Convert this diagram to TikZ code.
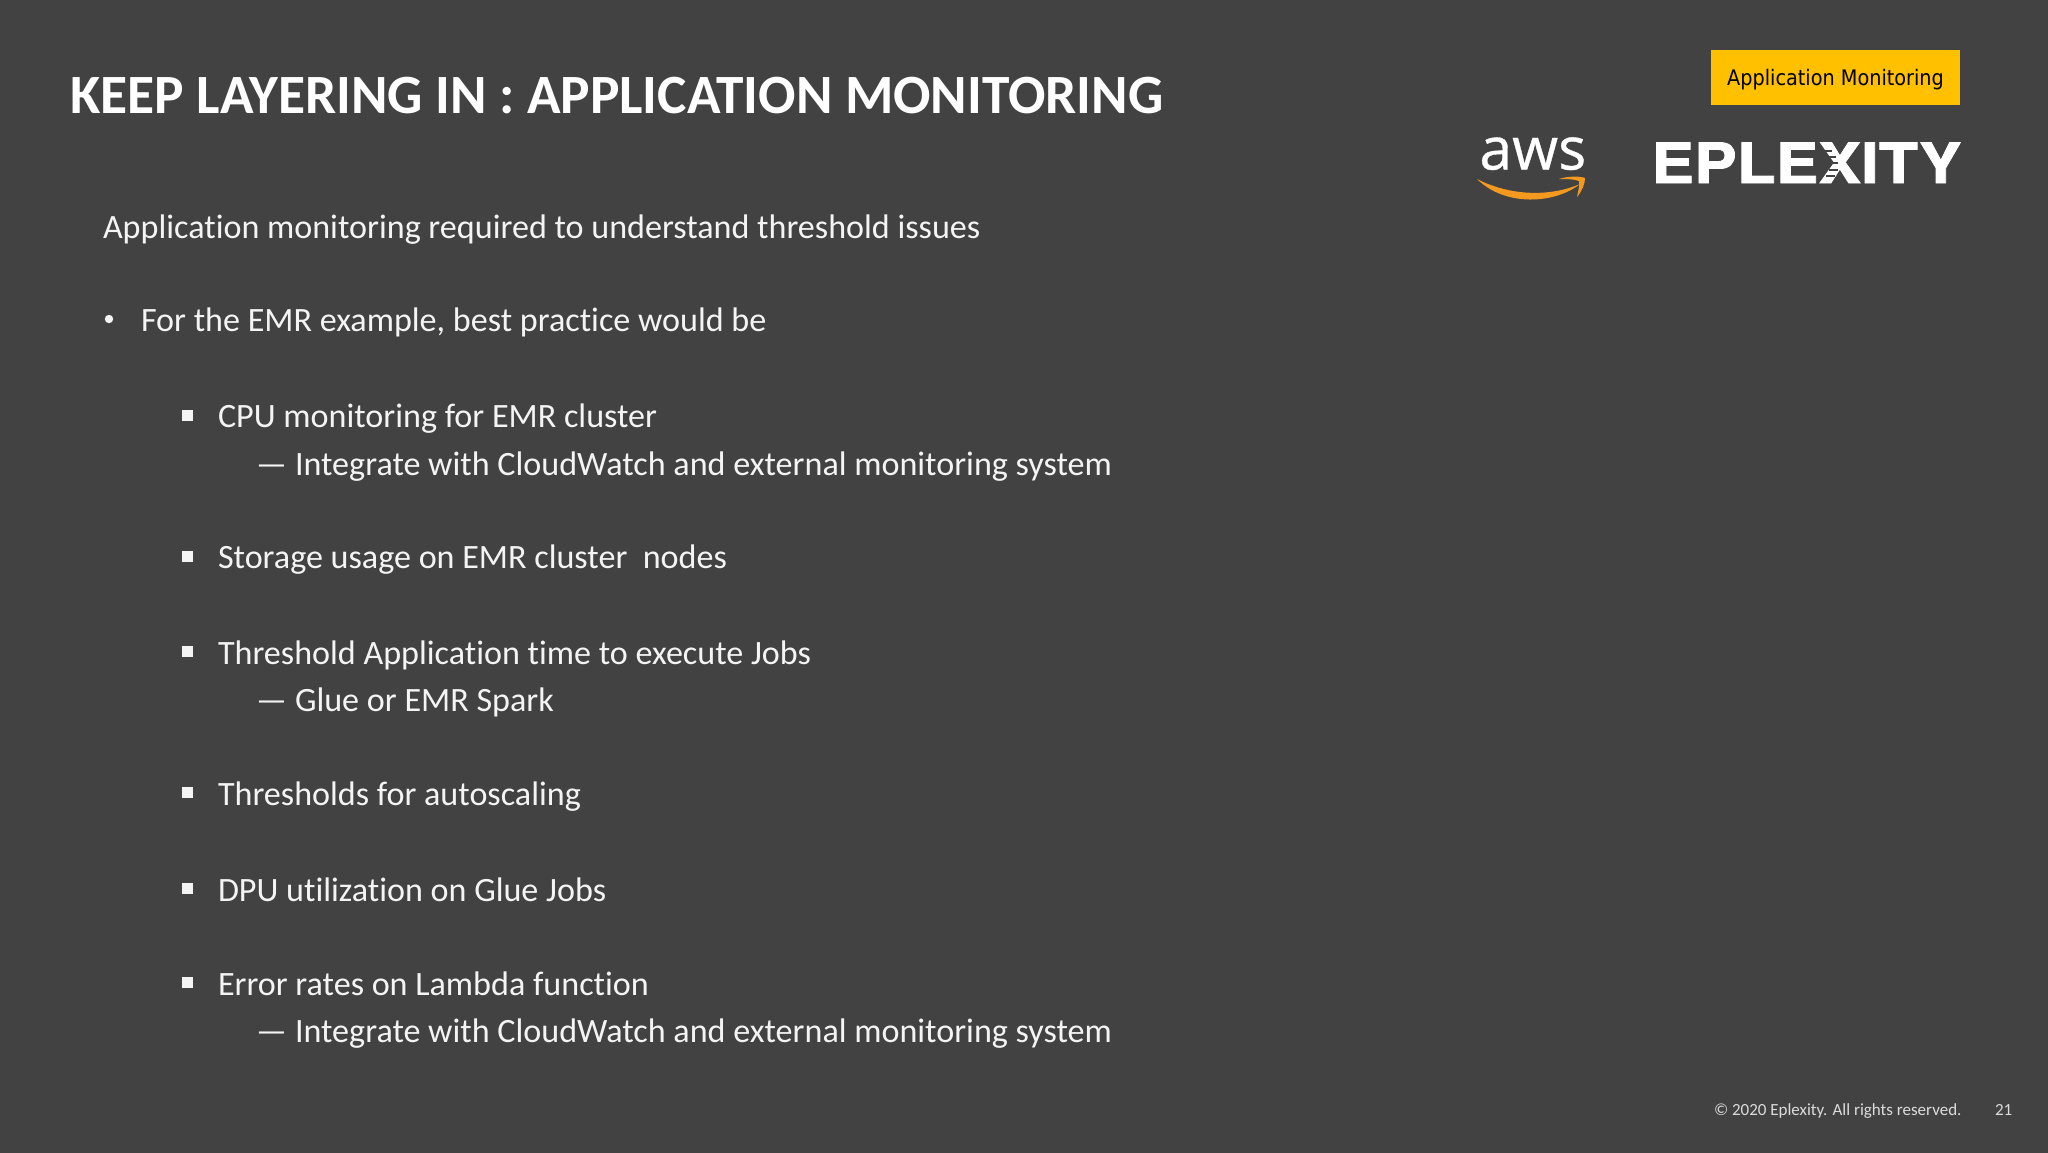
\documentclass[tikz,border=0pt]{standalone}
\usepackage{fontspec}
\setmainfont[Ligatures=NoCommon]{Carlito}
\newfontfamily\logofont[FakeStretch=1.15,FakeBold=1.5]{TeX Gyre Heros}
\newfontfamily\tagfont[FakeStretch=0.9]{DejaVu Sans}
\newfontfamily\awsfont[FakeBold=0.6]{Open Sans}
\definecolor{slidebg}{HTML}{424242}
\definecolor{bodytext}{HTML}{F4F4F4}
\definecolor{tagyellow}{HTML}{FFC000}
\definecolor{awsorange}{HTML}{F39A1E}
\tikzset{
  txt/.style={anchor=base west,inner sep=0pt,outer sep=0pt,text=bodytext,font=\fontsize{17.05pt}{19pt}\selectfont},
  foot/.style={anchor=base west,inner sep=0pt,outer sep=0pt,text=bodytext!90!black,font=\fontsize{8.5pt}{10pt}\selectfont},
  sq/.style={rectangle,fill=bodytext,minimum size=5.5pt,inner sep=0pt,outer sep=0pt},
  dot/.style={circle,fill=bodytext,minimum size=4.2pt,inner sep=0pt,outer sep=0pt},
  logostripe/.style={draw=slidebg,line width=0.9pt}
}
\begin{document}
\begin{tikzpicture}[x=0.5pt,y=-0.5pt]
\useasboundingbox (0,0) rectangle (2048,1152);
\fill[slidebg] (-4,-4) rectangle (2052,1156);
\node[anchor=base west,inner sep=0pt,text=white,font=\bfseries\fontsize{27.7pt}{30pt}\selectfont] (title) at (70,113) {KEEP LAYERING IN : APPLICATION MONITORING};
\node[txt] (intro) at (103,238) {Application monitoring required to understand threshold issues};
\node[dot] (bul0) at (109,319) {};
\node[txt] (l1) at (141,331) {For the EMR example, best practice would be};
\node[sq] (s1) at (187,415) {};
\node[txt] (l2) at (218,427.5) {CPU monitoring for EMR cluster};
\node[txt] (d2) at (256,475) {—};
\node[txt] (l3) at (295,475) {Integrate with CloudWatch and external monitoring system};
\node[sq] (s2) at (187,556) {};
\node[txt] (l4) at (218,568) {Storage usage on EMR cluster\ \ nodes};
\node[sq] (s3) at (187,651) {};
\node[txt] (l5) at (218,664) {Threshold Application time to execute Jobs};
\node[txt] (d5) at (256,711) {—};
\node[txt] (l6) at (295,711) {Glue or EMR Spark};
\node[sq] (s4) at (187,792) {};
\node[txt] (l7) at (218,805) {Thresholds for autoscaling};
\node[sq] (s5) at (187,888) {};
\node[txt] (l8) at (218,901) {DPU utilization on Glue Jobs};
\node[sq] (s6) at (187,982) {};
\node[txt] (l9) at (218,995) {Error rates on Lambda function};
\node[txt] (d9) at (256,1042) {—};
\node[txt] (l10) at (295,1042) {Integrate with CloudWatch and external monitoring system};
\node[foot] (copy) at (1714,1115) {© 2020 Eplexity. All rights reserved.};
\node[foot] (page) at (1995,1115) {21};
% tag
\node[rectangle,fill=tagyellow,minimum width=124.5pt,minimum height=27.5pt,inner sep=0pt] (tag) at (1835.5,77.5) {};
\node[anchor=base,inner sep=0pt,text=black,font=\tagfont\fontsize{10.7pt}{12pt}\selectfont] (tagtext) at (1835.5,85) {Application Monitoring};
% aws
\node[anchor=base west,inner sep=0pt,text=white,font=\awsfont\fontsize{29.5pt}{30pt}\selectfont] (aws) at (1479,169.5) {aws};
\fill[awsorange] (1477,179) .. controls (1510,196) and (1550,197) .. (1580,184) .. controls (1555,204) and (1505,207) .. (1477,179) -- cycle;
\fill[awsorange] (1559,179) .. controls (1568,176) and (1580,176) .. (1585,178) .. controls (1585,184) and (1582,191) .. (1577,197) .. controls (1578,191) and (1580,185) .. (1579,181) .. controls (1574,179) and (1566,179) .. (1559,179) -- cycle;
% logo
\node[anchor=base west,inner sep=0pt,text=white,font=\logofont\bfseries\fontsize{27.8pt}{30pt}\selectfont] (logo) at (1651,183) {EPLEXITY};
\foreach \yy/\xa/\xb in {151/1822/1832,157/1826/1836,163/1829/1838,170/1829/1838,176/1826/1835}
  \draw[logostripe] (\xa,\yy) -- (\xb,\yy);
\end{tikzpicture}
\end{document}
